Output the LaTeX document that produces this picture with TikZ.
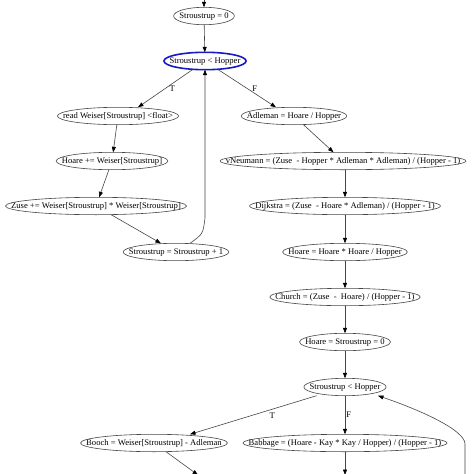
\documentclass[tikz,border=0pt]{standalone}
\usepackage{fontspec}
\setmainfont{Liberation Serif}
\usetikzlibrary{arrows.meta,calc}

\definecolor{gvgray}{RGB}{70,70,70}
\definecolor{gvblue}{RGB}{25,25,195}

\begin{document}
\begin{tikzpicture}[x=1pt,y=-1pt,
  stmt/.style={font=\fontsize{8.6}{10}\selectfont, inner xsep=5.5pt, inner ysep=4.5pt, text height=6pt, text depth=2pt},
  oval/.style={draw=gvgray, line width=0.6pt},
  cond/.style={draw=gvblue, line width=1.6pt},
  flow/.style={draw=gvgray, line width=0.6pt, -{Triangle[length=5.5pt,width=4pt,color=black]}},
  tf/.style={font=\fontsize{8.6}{10}\selectfont, inner sep=1pt}]

\path[use as bounding box, fill=white] (0,0) rectangle (474,474);
\clip (0,0) rectangle (474,474);

% first loop
\node[stmt] (s0)  at (204,16)  {Stroustrup = 0};
\node[stmt] (c1)  at (205,61)  {Stroustrup < Hopper};
\node[stmt] (rd)  at (118,116) {read Weiser[Stroustrup] <float>};
\node[stmt] (h1)  at (112,161) {Hoare += Weiser[Stroustrup]};
\node[stmt] (z1)  at (96,206)  {Zuse += Weiser[Stroustrup] * Weiser[Stroustrup]};
\node[stmt] (inc) at (176,252) {Stroustrup = Stroustrup + 1};

% after the loop
\node[stmt] (ad)  at (294,116) {Adleman = Hoare / Hopper};
\node[stmt] (vn)  at (343,161) {vNeumann = (Zuse\ \ - Hopper * Adleman * Adleman) / (Hopper - 1)};
\node[stmt] (dj)  at (345,206) {Dijkstra = (Zuse\ \ - Hoare * Adleman) / (Hopper - 1)};
\node[stmt] (h2)  at (345,252) {Hoare = Hoare * Hoare / Hopper};
\node[stmt] (ch)  at (345,297) {Church = (Zuse\ \ -\ \ Hoare) / (Hopper - 1)};
\node[stmt] (h3)  at (345,342) {Hoare = Stroustrup = 0};

% second loop
\node[stmt] (c2)  at (345,387) {Stroustrup < Hopper};
\node[stmt] (bo)  at (154,443) {Booch = Weiser[Stroustrup] - Adleman};
\node[stmt] (ba)  at (345,443) {Babbage = (Hoare - Kay * Kay / Hopper) / (Hopper - 1)};

\foreach \nd in {s0,rd,h1,z1,inc,ad,vn,dj,h2,ch,h3,c2,bo,ba}
  \draw[oval] let \p1=($(\nd.north east)-(\nd.center)$) in (\nd.center) ellipse [x radius=\x1, y radius=\y1];
\draw[cond] let \p1=($(c1.north east)-(c1.center)$) in (c1.center) ellipse [x radius=\x1, y radius=\y1];

\coordinate (entry) at (204,-6);
\coordinate (back1) at (205,218);
\coordinate (nextA) at (198,475);
\coordinate (nextB) at (345,475);
\coordinate (back2) at (465,480);
\coordinate (back2t) at (465,444);

\draw[flow] (entry) -- (s0);
\draw[flow] (s0) -- (c1);
\draw[flow] (c1) -- ([xshift=20pt]rd.north) node[tf, midway, right=3pt] {T};
\draw[flow] (c1) -- ([xshift=-18pt]ad.north) node[tf, midway, right=4pt] {F};
\draw[flow] (rd) -- (h1);
\draw[flow] (h1) -- (z1);
\draw[flow] (z1) -- (inc);
\draw[flow] ([xshift=14pt]inc.north) .. controls (203,234) .. (back1) -- (c1);

\draw[flow] (ad) -- (vn);
\draw[flow] (dj |- vn.south) -- (dj);
\draw[flow] (dj) -- (h2);
\draw[flow] (h2) -- (ch);
\draw[flow] (ch) -- (h3);
\draw[flow] (h3) -- (c2);

\draw[flow] (c2) -- ([xshift=36pt]bo.north) node[tf, pos=0.35, below=2pt] {T};
\draw[flow] (c2) -- (ba) node[tf, midway, right=0pt] {F};
\draw[flow] (bo) -- (nextA);
\draw[flow] (ba) -- (nextB);
\draw[flow] (back2) -- (back2t) .. controls (465,430) and (420,410) .. ([xshift=33pt]c2.south);
\end{tikzpicture}
\end{document}
